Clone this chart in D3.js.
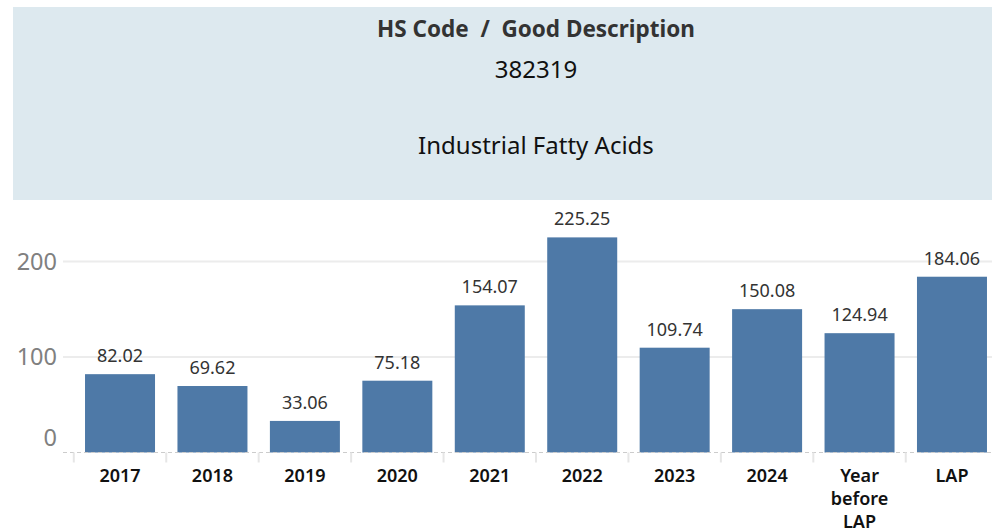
<!DOCTYPE html>
<html>
<head>
<meta charset="utf-8">
<script src="https://cdn.jsdelivr.net/npm/d3@7"></script>
<style>
    body { margin: 0; background: #fff; }
    svg { display: block; font-family: "Noto Sans", "Open Sans", sans-serif; }
</style>
</head>
<body>
<div id="chart-container"></div>
<script>
// header texts
const TITLE = ["HS Code", "Good Description"];
const HS_CODE = "382319";
const GOOD_DESCRIPTION = "Industrial Fatty Acids";

// categories and values
const CATEGORIES = ["2017", "2018", "2019", "2020", "2021", "2022", "2023", "2024", "Year before LAP", "LAP"];
const VALUES = [82.02, 69.62, 33.06, 75.18, 154.07, 225.25, 109.74, 150.08, 124.94, 184.06];
const Y_TICKS = [0, 100, 200];

// category label line breaks
const CATEGORY_LINES = {
    "Year before LAP": ["Year", "before", "LAP"],
};

function drawChart() {
    const width = 992;
    const height = 531;

    const svg = d3.select("#chart-container")
        .append("svg")
        .attr("width", width)
        .attr("height", height);

    // header panel
    svg.append("rect")
        .attr("x", 13)
        .attr("y", 7)
        .attr("width", width - 13)
        .attr("height", 193)
        .attr("fill", "#dde9ef");

    const header = svg.append("g").attr("text-anchor", "middle");

    header.append("text")
        .attr("x", 536)
        .attr("y", 37)
        .attr("font-size", "22.5px")
        .attr("font-weight", "bold")
        .attr("fill", "#333")
        .attr("xml:space", "preserve")
        .text(TITLE.join("  /  "));

    header.append("text")
        .attr("x", 536)
        .attr("y", 78)
        .attr("font-size", "24px")
        .attr("fill", "#111")
        .text(HS_CODE);

    header.append("text")
        .attr("x", 536)
        .attr("y", 154)
        .attr("font-size", "24px")
        .attr("fill", "#111")
        .text(GOOD_DESCRIPTION);

    // scales
    const x = d3.scaleBand()
        .domain(CATEGORIES)
        .range([73.8, 998.2])
        .paddingInner(0.2428)
        .paddingOuter(0.1214);

    const y = d3.scaleLinear()
        .domain([0, 100])
        .range([452.5, 357]);

    const plotLeft = 63;

    // gridlines
    svg.append("g")
        .selectAll("line")
        .data(Y_TICKS.filter(d => d > 0))
        .enter()
        .append("line")
        .attr("x1", plotLeft)
        .attr("x2", width)
        .attr("y1", d => y(d))
        .attr("y2", d => y(d))
        .attr("stroke", "#ececec")
        .attr("stroke-width", 2);

    // y axis labels
    svg.append("g")
        .selectAll("text")
        .data(Y_TICKS)
        .enter()
        .append("text")
        .attr("x", 57)
        .attr("y", d => d === 0 ? y(d) - 15 : y(d))
        .attr("dy", "0.35em")
        .attr("text-anchor", "end")
        .attr("font-size", "23.5px")
        .attr("fill", "#808080")
        .text(d => d);

    // bars
    svg.append("g")
        .selectAll("rect")
        .data(VALUES)
        .enter()
        .append("rect")
        .attr("x", (d, i) => x(CATEGORIES[i]))
        .attr("y", d => y(d))
        .attr("width", x.bandwidth())
        .attr("height", d => y(0) - y(d))
        .attr("fill", "#4e79a7");

    // value labels
    svg.append("g")
        .selectAll("text")
        .data(VALUES)
        .enter()
        .append("text")
        .attr("x", (d, i) => x(CATEGORIES[i]) + x.bandwidth() / 2)
        .attr("y", d => y(d) - 12)
        .attr("text-anchor", "middle")
        .attr("font-size", "18px")
        .attr("fill", "#333")
        .text(d => d.toFixed(2));

    // baseline
    svg.append("line")
        .attr("x1", plotLeft)
        .attr("x2", width)
        .attr("y1", y(0))
        .attr("y2", y(0))
        .attr("stroke", "#ccc")
        .attr("stroke-dasharray", "4,3");

    // column dividers
    const step = x.step();
    svg.append("g")
        .selectAll("line")
        .data(CATEGORIES)
        .enter()
        .append("line")
        .attr("x1", d => x(d) - (step - x.bandwidth()) / 2)
        .attr("x2", d => x(d) - (step - x.bandwidth()) / 2)
        .attr("y1", y(0))
        .attr("y2", y(0) + 10)
        .attr("stroke", "#e6e6e6")
        .attr("stroke-width", 2);

    // x axis labels
    const xLabels = svg.append("g")
        .selectAll("text")
        .data(CATEGORIES)
        .enter()
        .append("text")
        .attr("x", d => x(d) + x.bandwidth() / 2)
        .attr("y", 481.5)
        .attr("text-anchor", "middle")
        .attr("font-size", "18px")
        .attr("font-weight", 600)
        .attr("fill", "#111");

    xLabels.selectAll("tspan")
        .data(d => CATEGORY_LINES[d] || [d])
        .enter()
        .append("tspan")
        .attr("x", function () { return d3.select(this.parentNode).attr("x"); })
        .attr("dy", (d, i) => i === 0 ? 0 : 23)
        .text(d => d);
}

window.onload = () => {
    drawChart();
};
</script>
</body>
</html>
